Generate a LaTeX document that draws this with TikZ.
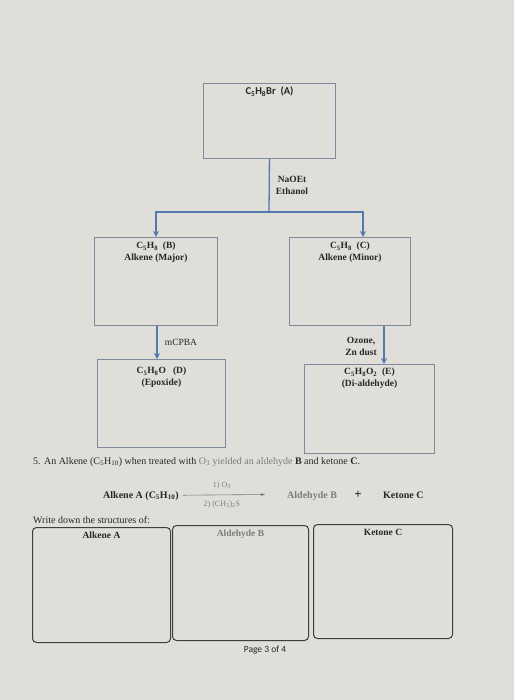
\documentclass[tikz,border=0pt]{standalone}
\usepackage{fontspec}
\setmainfont{Liberation Serif}
\newfontfamily\calibrifont{Carlito}
\usetikzlibrary{arrows.meta,positioning}
\definecolor{paperGray}{RGB}{224,222,217}
\definecolor{flowBlue}{RGB}{82,122,172}
\definecolor{boxEdge}{RGB}{128,136,156}
\definecolor{inkDark}{RGB}{38,38,38}
\definecolor{inkFaded}{RGB}{125,125,125}
\definecolor{answerEdge}{RGB}{62,62,62}

\begin{document}
\begin{tikzpicture}[x=1pt, y=-1pt,
  chembox/.style={draw=boxEdge, line width=0.9pt, inner sep=0pt, anchor=north west},
  answerbox/.style={draw=answerEdge, line width=1pt, rounded corners=4pt, inner sep=0pt, anchor=north west},
  boxlabel/.style={text=inkDark, font=\bfseries\fontsize{9.5}{11.5}\selectfont, align=center, anchor=north, inner sep=1pt},
  reagent/.style={text=inkDark, font=\bfseries\fontsize{9.5}{12}\selectfont, align=center, inner sep=1pt},
  flow/.style={draw=flowBlue, line width=1.3pt, -{Stealth[length=6pt,width=6pt]}},
  plain/.style={text=inkDark, font=\fontsize{10}{12}\selectfont, inner sep=0pt}]
\fill[paperGray] (0,0) rectangle (514,700);
\useasboundingbox (0,0) rectangle (514,700);

% flow chart
\node[chembox, minimum width=132, minimum height=75] (A) at (203,83) {};
\node[boxlabel, below=3pt of A.north, font=\calibrifont\bfseries\fontsize{10.5}{12}\selectfont] (A-label) {C\textsubscript{5}H\textsubscript{8}Br\ \ (A)};

\node[chembox, minimum width=123, minimum height=88] (B) at (94,237) {};
\node[boxlabel, below=4pt of B.north] (B-label) {C\textsubscript{5}H\textsubscript{8}\ \ (B)\\Alkene (Major)};

\node[chembox, minimum width=121, minimum height=88] (C) at (289,237) {};
\node[boxlabel, below=4pt of C.north] (C-label) {C\textsubscript{5}H\textsubscript{8}\ \ (C)\\Alkene (Minor)};

\node[chembox, minimum width=128, minimum height=88] (D) at (97,359) {};
\node[boxlabel, below=7pt of D.north] (D-label) {C\textsubscript{5}H\textsubscript{8}O\ \ \ (D)\\(Epoxide)};

\node[chembox, minimum width=130, minimum height=89] (E) at (304,364) {};
\node[boxlabel, below=3pt of E.north] (E-label) {C\textsubscript{5}H\textsubscript{8}O\textsubscript{2}\ \ (E)\\(Di-aldehyde)};

\coordinate (split) at (269,212);
\coordinate (Cin) at (363,237);
\coordinate (Din) at (157,359);
\coordinate (Ein) at (384,364);
\draw[flow, -] (A.south) -- (split);
\draw[flow] (split) -| (B.north);
\draw[flow] (split) -| (Cin);
\draw[flow] (Din |- B.south) -- (Din);
\draw[flow] (Ein |- C.south) -- (Ein);

\node[reagent] (naoet) at (292,185) {NaOEt\\Ethanol};
\node[reagent, font=\fontsize{9.5}{12}\selectfont] (mcpba) at (181,342) {mCPBA};
\node[reagent] (ozone) at (361,346) {Ozone,\\Zn dust};

% question 5
\node[plain, anchor=base west] (q5) at (33,464) {5. An Alkene (C\textsubscript{5}H\textsubscript{10}) when treated with {\color{inkFaded}O\textsubscript{3} yielded an aldehyde} \textbf{B} and ketone \textbf{C}.};

\node[plain, anchor=base west, font=\bfseries\fontsize{10}{12}\selectfont] (alkA) at (103,498) {Alkene A (C\textsubscript{5}H\textsubscript{10})};
\coordinate (rxnEnd) at (265,494.5);
\draw[inkFaded, line width=0.6pt, -{Stealth[length=4pt,width=3pt]}, shorten <=4pt] (alkA) -- (rxnEnd)
  node[midway, above=2pt, text=inkFaded, font=\fontsize{8}{9}\selectfont] (rxnTop) {1) O\textsubscript{3}}
  node[midway, below=2pt, text=inkFaded, font=\fontsize{8}{9}\selectfont] (rxnBot) {2) (CH\textsubscript{3})\textsubscript{2}S};
\node[plain, anchor=base west, text=inkFaded, font=\bfseries\fontsize{10}{12}\selectfont] (aldB) at (287,498) {Aldehyde B};
\node[plain, anchor=base, font=\bfseries\fontsize{13}{13}\selectfont] (plus) at (358,498) {+};
\node[plain, anchor=base west, font=\bfseries\fontsize{10}{12}\selectfont] (ketC) at (383,498) {Ketone C};

\node[plain, anchor=base west] (writeDown) at (33,523) {Write down the structures of:};

\foreach \nm/\bx/\by/\bw/\bh/\clr/\txt in {ansA/32/527/138/115/inkDark/Alkene A, ansB/172/525/136/115/inkFaded/Aldehyde B, ansC/313/524/139/114/inkDark/Ketone C}
{
  \node[answerbox, minimum width=\bw, minimum height=\bh] (\nm) at (\bx,\by) {};
  \node[boxlabel, text=\clr, below=4pt of \nm.north, font=\bfseries\fontsize{9.5}{11}\selectfont] (\nm-label) {\txt};
}

\node[text=inkDark, font=\calibrifont\fontsize{9.5}{11}\selectfont] (pageNo) at (265,650) {Page 3 of 4};
\end{tikzpicture}
\end{document}
